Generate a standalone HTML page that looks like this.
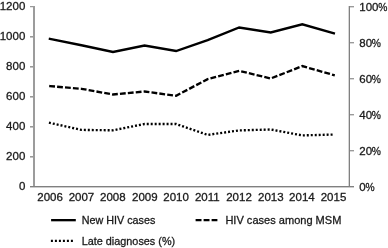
<!DOCTYPE html>
<html><head><meta charset="utf-8"><style>
html,body{margin:0;padding:0;background:#fff;}
svg{display:block;}
text{font-family:"Liberation Sans",Arial,sans-serif;font-size:11.5px;fill:#1a1a1a;stroke:#1a1a1a;stroke-width:0.3px;}
</style></head><body>
<svg width="388" height="248" viewBox="0 0 388 248">
<rect width="388" height="248" fill="#fff"/>
<g shape-rendering="crispEdges">
<rect x="33" y="6" width="2" height="181" fill="#9c9c9c"/>
<rect x="348" y="6" width="1" height="181" fill="#d6d6d6"/>
<rect x="349" y="6" width="1" height="181" fill="#808080"/>
<g><rect x="30" y="6" width="3" height="1" fill="#999999"/><rect x="30" y="7" width="3" height="1" fill="#e6e6e6"/><rect x="30" y="36" width="3" height="1" fill="#999999"/><rect x="30" y="37" width="3" height="1" fill="#c4c4c4"/><rect x="30" y="66" width="3" height="1" fill="#999999"/><rect x="30" y="67" width="3" height="1" fill="#c4c4c4"/><rect x="30" y="96" width="3" height="1" fill="#999999"/><rect x="30" y="97" width="3" height="1" fill="#c4c4c4"/><rect x="30" y="126" width="3" height="1" fill="#999999"/><rect x="30" y="127" width="3" height="1" fill="#c4c4c4"/><rect x="30" y="156" width="3" height="1" fill="#999999"/><rect x="30" y="157" width="3" height="1" fill="#c4c4c4"/><rect x="350" y="6" width="4" height="1" fill="#9a9a9a"/><rect x="350" y="7" width="4" height="1" fill="#d8d8d8"/><rect x="350" y="42" width="4" height="1" fill="#9a9a9a"/><rect x="350" y="43" width="4" height="1" fill="#d8d8d8"/><rect x="350" y="78" width="4" height="1" fill="#9a9a9a"/><rect x="350" y="79" width="4" height="1" fill="#d8d8d8"/><rect x="350" y="114" width="4" height="1" fill="#9a9a9a"/><rect x="350" y="115" width="4" height="1" fill="#d8d8d8"/><rect x="350" y="150" width="4" height="1" fill="#9a9a9a"/><rect x="350" y="151" width="4" height="1" fill="#d8d8d8"/></g>
<rect x="30" y="187" width="324" height="1" fill="#cccccc"/>
<rect x="30" y="186" width="324" height="1" fill="#808080"/>
</g>
<g fill="none" stroke="#000" stroke-width="2.35" stroke-linejoin="miter" stroke-linecap="square">
<polyline points="49.90,38.80 81.45,45.25 113.00,52.00 144.55,45.50 176.10,51.00 207.65,40.20 239.20,27.50 270.75,32.45 302.30,24.30 333.85,33.30"/>
</g>
<g fill="none" stroke="#000" stroke-width="2.35" stroke-linejoin="miter" stroke-linecap="butt">
<polyline points="48.90,86.01 49.90,86.10 81.45,88.80 113.00,94.50 144.55,91.50 176.10,95.80 207.65,79.10 239.20,70.80 270.75,78.50 302.30,66.10 333.85,75.05 334.81,75.32" stroke-dasharray="5.8 2.133" stroke-dashoffset="-0.3"/>
<polyline points="48.92,122.68 49.90,122.90 81.45,129.90 113.00,130.30 144.55,124.00 176.10,124.00 207.65,134.90 239.20,130.40 270.75,129.50 302.30,135.40 333.85,134.55 333.85,134.55" stroke-dasharray="2 1.97" stroke-dashoffset="0.03"/>
<line x1="51.1" y1="220.15" x2="75.8" y2="220.15"/>
<line x1="195.6" y1="220.1" x2="217.4" y2="220.1" stroke-dasharray="5.9 2.1"/>
<line x1="50.9" y1="240.8" x2="73" y2="240.8" stroke-dasharray="2 2"/>
</g>
<text x="25.3" y="10.3" text-anchor="end">1200</text><text x="25.3" y="40.3" text-anchor="end">1000</text><text x="25.3" y="70.3" text-anchor="end">800</text><text x="25.3" y="100.3" text-anchor="end">600</text><text x="25.3" y="130.3" text-anchor="end">400</text><text x="25.3" y="160.3" text-anchor="end">200</text><text x="25.3" y="190.3" text-anchor="end">0</text>
<text x="359.3" y="10.5">100</text><text x="378.17" y="10.5" textLength="9.14" lengthAdjust="spacingAndGlyphs">%</text><text x="359.3" y="46.5">80</text><text x="371.78" y="46.5" textLength="9.14" lengthAdjust="spacingAndGlyphs">%</text><text x="359.3" y="82.5">60</text><text x="371.78" y="82.5" textLength="9.14" lengthAdjust="spacingAndGlyphs">%</text><text x="359.3" y="118.5">40</text><text x="371.78" y="118.5" textLength="9.14" lengthAdjust="spacingAndGlyphs">%</text><text x="359.3" y="154.5">20</text><text x="371.78" y="154.5" textLength="9.14" lengthAdjust="spacingAndGlyphs">%</text><text x="359.3" y="190.5">0</text><text x="365.39" y="190.5" textLength="9.14" lengthAdjust="spacingAndGlyphs">%</text>
<text x="50.10" y="200.55" text-anchor="middle">2006</text><text x="81.45" y="200.55" text-anchor="middle">2007</text><text x="112.80" y="200.55" text-anchor="middle">2008</text><text x="144.85" y="200.55" text-anchor="middle">2009</text><text x="176.10" y="200.55" text-anchor="middle">2010</text><text x="207.30" y="200.55" text-anchor="middle">2011</text><text x="239.00" y="200.55" text-anchor="middle">2012</text><text x="270.80" y="200.55" text-anchor="middle">2013</text><text x="301.90" y="200.55" text-anchor="middle">2014</text><text x="333.50" y="200.55" text-anchor="middle">2015</text>
<text x="81.7" y="223.7" textLength="73.6" lengthAdjust="spacingAndGlyphs">New HIV cases</text>
<text x="225.4" y="223.7" textLength="116.0" lengthAdjust="spacingAndGlyphs">HIV cases among MSM</text>
<text x="81.7" y="244.6" textLength="93.5" lengthAdjust="spacingAndGlyphs">Late diagnoses (%)</text>
</svg>
</body></html>
